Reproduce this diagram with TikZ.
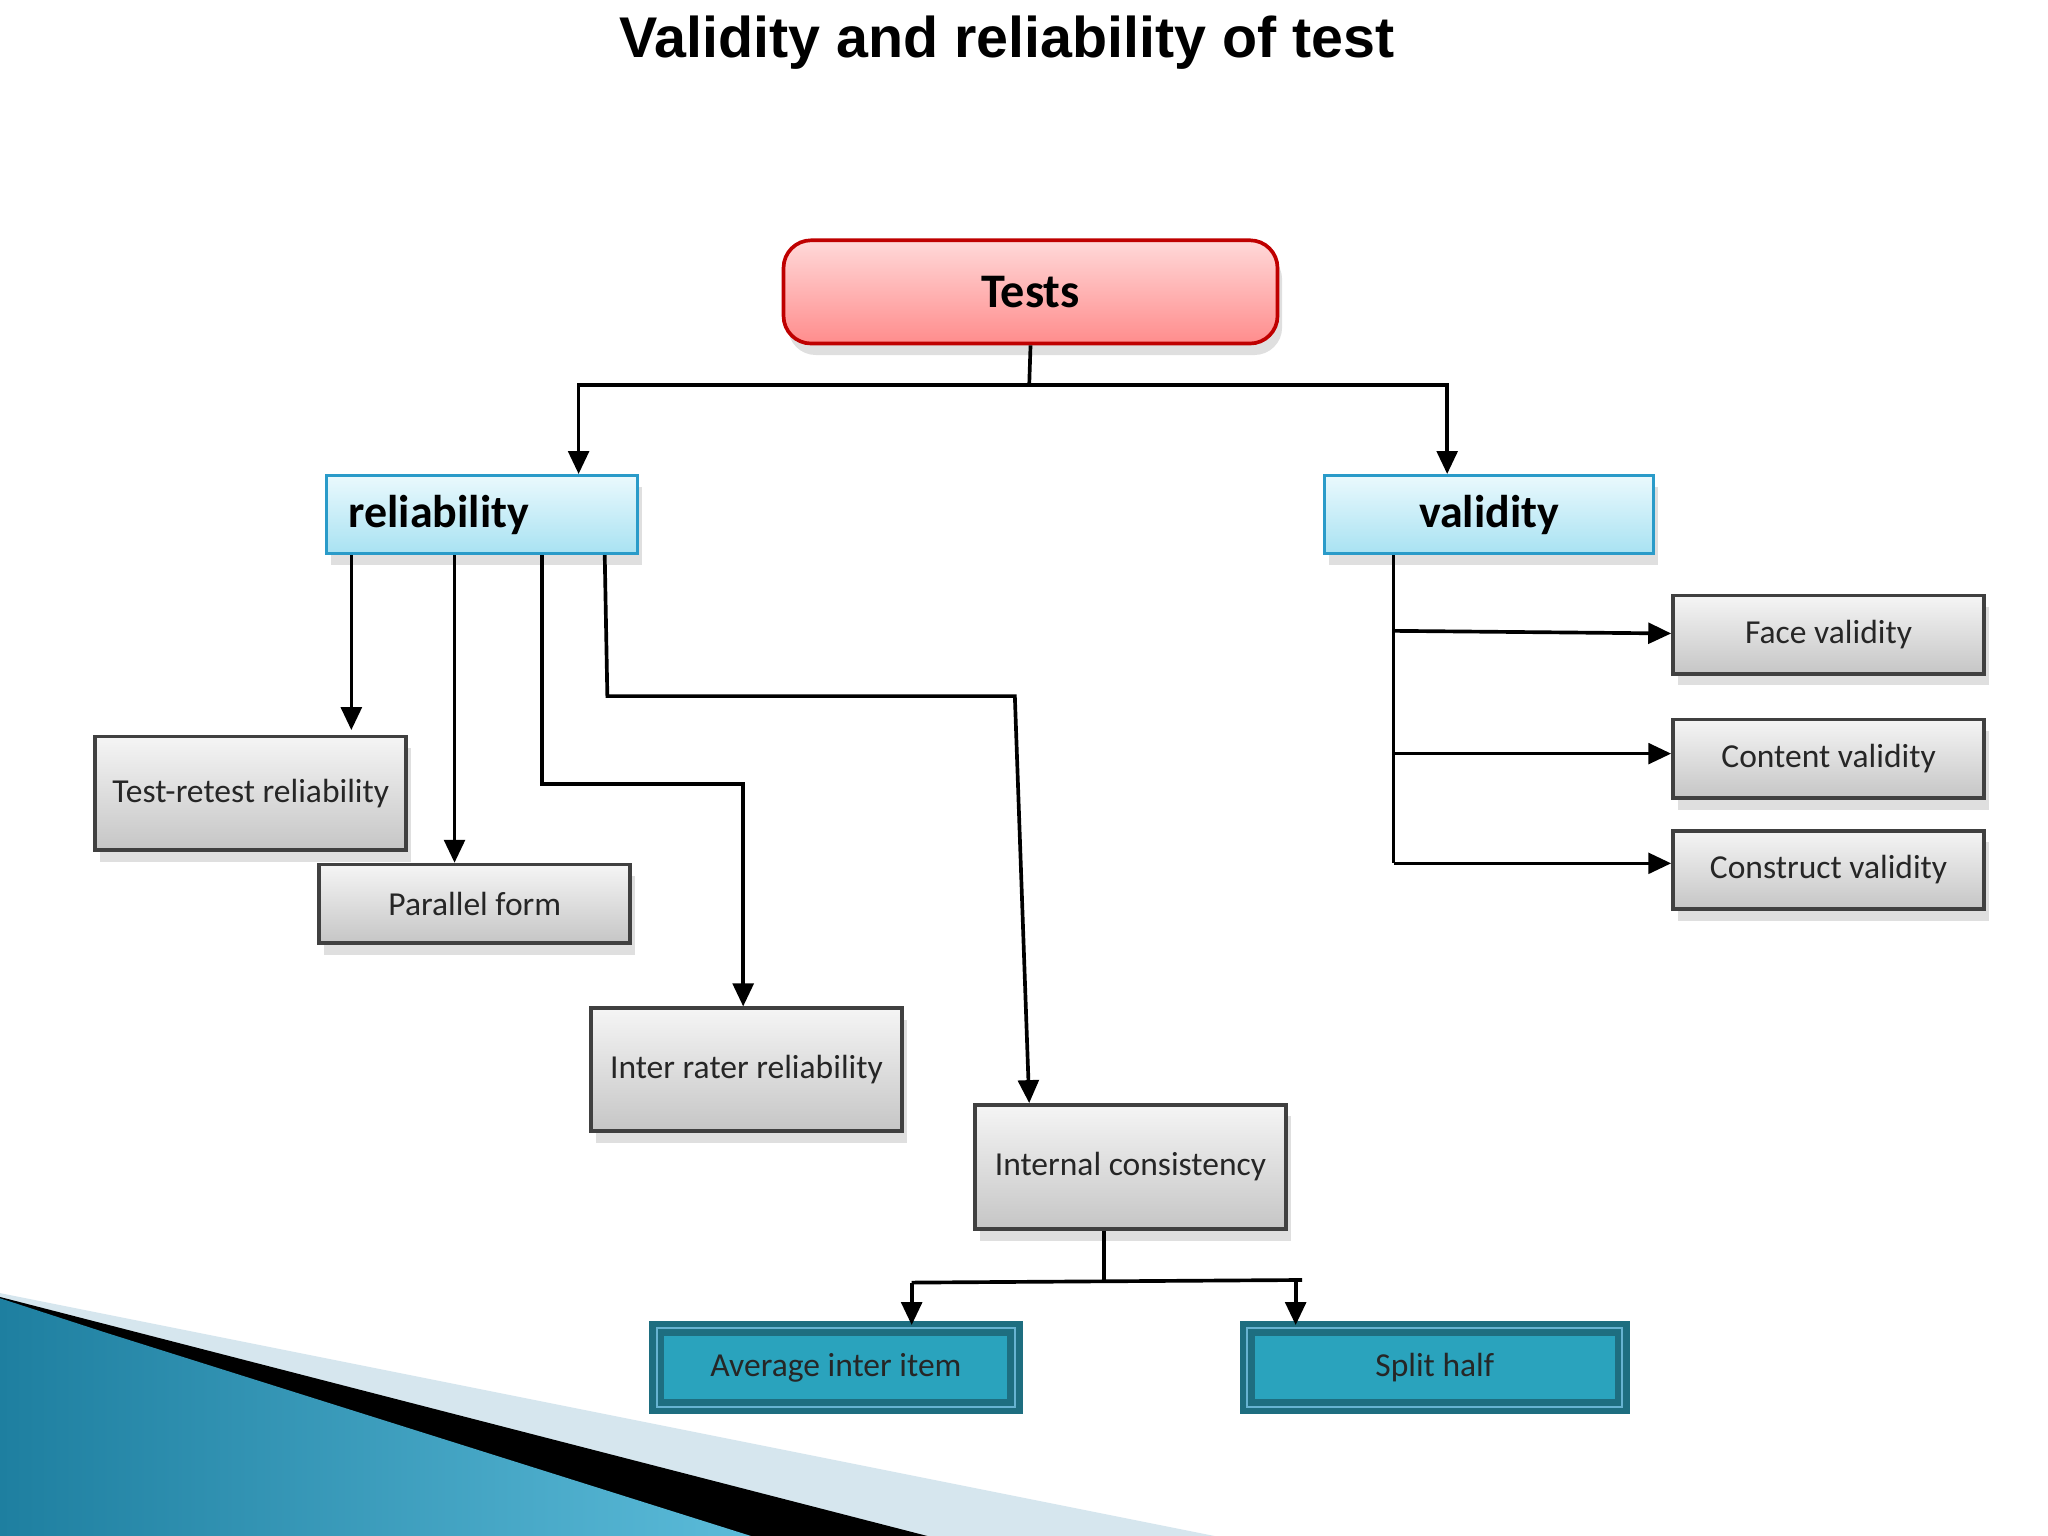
\documentclass[tikz,border=0pt]{standalone}
\usepackage{fontspec}
\setmainfont{Carlito}
\newfontfamily\titlefont{Liberation Sans}
\usetikzlibrary{shadows,arrows.meta}
\definecolor{tealbox}{HTML}{2AA3BD}
\definecolor{tealedge}{HTML}{1E6E80}
\definecolor{swA}{HTML}{1E7FA0}
\definecolor{swB}{HTML}{5BBBD9}
\definecolor{swC}{HTML}{D6E6EE}
\definecolor{bluetop}{HTML}{EAF9FD}
\definecolor{bluebot}{HTML}{A8E2F2}
\begin{document}
\begin{tikzpicture}[x=0.01cm,y=-0.01cm,
  gbox/.style={draw=black!75,line width=0.8pt,top color=gray!8,bottom color=gray!45,drop shadow={shadow xshift=1pt,shadow yshift=-2.5pt,opacity=0.25},font=\fontsize{7.3}{9}\selectfont,text=black!85},
  bbox/.style={draw=cyan!60!teal,line width=0.6pt,top color=bluetop,bottom color=bluebot,drop shadow={shadow xshift=1pt,shadow yshift=-2.5pt,opacity=0.25},font=\bfseries\fontsize{10}{12}\selectfont},
  tbox/.style={draw=tealedge,line width=1.4pt,double=cyan!50!teal!70,double distance=0.5pt,fill=tealbox,font=\fontsize{7.3}{9}\selectfont,text=black!85},
  arr/.style={-{Triangle[length=5pt,width=4.5pt]},line width=0.8pt},
  ln/.style={line width=0.8pt}]
\useasboundingbox (0,0) rectangle (1568,1176);
% decorative swoosh
\fill[swC] (0,990) -- (930,1176) -- (0,1176) -- cycle;
\fill[black] (0,993) -- (710,1176) -- (0,1176) -- cycle;
\shade[left color=swA,right color=swB] (0,994) -- (80,1020) -- (575,1176) -- (0,1176) -- cycle;
\node[font=\titlefont\bfseries\fontsize{12.5}{14}\selectfont] (title) at (771,33) {Validity and reliability of test};
\node[draw=red!75!black,line width=0.8pt,rounded corners=6pt,top color=red!15,bottom color=red!45,drop shadow={shadow xshift=1pt,shadow yshift=-2.5pt,opacity=0.25},font=\bfseries\fontsize{10.5}{12}\selectfont,inner sep=0pt] (tests) at (789,223.5) {\parbox[c][0.79cm][c]{3.78cm}{\centering Tests}};
\node[bbox,inner sep=0pt] (rel) at (369,394) {\parbox[c][0.6cm][c]{2.38cm}{\hspace*{0.17cm}reliability}};
\node[bbox,inner sep=0pt] (val) at (1140,394) {\parbox[c][0.6cm][c]{2.52cm}{\centering validity}};
\newcommand{\gb}[5]{\node[gbox,inner sep=0pt] (#1) at (#2,#3) {\parbox[c][#5][c]{2.38cm}{\centering #4}};}
\gb{trt}{192}{607.5}{Test-retest reliability}{0.87cm}
\gb{par}{363.5}{692}{Parallel form}{0.6cm}
\gb{irr}{571.5}{819}{Inter rater reliability}{0.94cm}
\gb{ic}{865.5}{893.5}{Internal consistency}{0.95cm}
\gb{face}{1400}{486}{Face validity}{0.6cm}
\gb{cont}{1400}{581}{Content validity}{0.6cm}
\gb{cons}{1400}{666}{Construct validity}{0.6cm}
\node[tbox,inner sep=0pt] (avg) at (640,1047) {\parbox[c][0.6cm][c]{2.74cm}{\centering Average inter item}};
\node[tbox,inner sep=0pt] (split) at (1098.5,1047) {\parbox[c][0.6cm][c]{2.87cm}{\centering Split half}};
% connectors
\draw[ln] (tests.south) -- (788,295) coordinate (tj);
\draw[arr] (tj) -| (rel.north -| 443,0);
\draw[arr] (tj) -| (val.north -| 1108,0);
\draw[arr] (rel.south -| 269,0) -- (269,559);
\draw[arr] (rel.south -| 348,0) -- (par.north -| 348,0);
\draw[arr] (rel.south -| 415,0) -- (415,600) -- (569,600) -- (irr.north -| 569,0);
\draw[arr] (rel.south -| 463,0) -- (465,533) -- (777,533) -- (ic.north -| 788,0);
\draw[ln] (val.south -| 1067,0) -- (1067,661);
\draw[arr] (1067,483) -- (face.west |- 0,485);
\draw[arr] (1067,577) -- (cont.west |- 0,577);
\draw[arr] (1067,661) -- (cons.west |- 0,661);
\draw[ln] (ic.south -| 845,0) -- (845,980) coordinate (ij);
\draw[ln] (698,982) -- (997,980);
\draw[arr] (698,982) -- (avg.north -| 698,0);
\draw[arr] (992,980) -- (split.north -| 992,0);
\end{tikzpicture}
\end{document}
